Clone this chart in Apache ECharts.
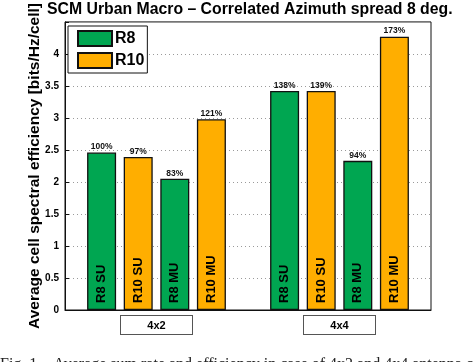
<!DOCTYPE html>
<html>
<head>
<meta charset="utf-8">
<script src="https://cdn.jsdelivr.net/npm/echarts@6/dist/echarts.min.js"></script>
<style>
html,body{margin:0;padding:0;background:#fff;}
#chart{width:474px;height:362px;}
</style>
</head>
<body>
<div id="chart"></div>
<script>
// ---- data ----
const groups = ['4x2', '4x4'];
const configs = ['R8 SU', 'R10 SU', 'R8 MU', 'R10 MU'];
const r8Values = [2.46, 2.05, 3.42, 2.33];     // R8 SU, R8 MU for 4x2 then 4x4
const r10Values = [2.39, 2.98, 3.42, 4.27];    // R10 SU, R10 MU for 4x2 then 4x4
const r8Pct = ['100%', '83%', '138%', '94%'];
const r10Pct = ['97%', '121%', '139%', '173%'];
const yTicks = [0, 0.5, 1, 1.5, 2, 2.5, 3, 3.5, 4];
const titleText = 'SCM Urban Macro \u2013 Correlated Azimuth spread 8 deg.';
const yName = 'Average cell spectral efficiency [bits/Hz/cell]';
const captionText = 'Fig. 1.   Average sum rate and efficiency in case of 4x2 and 4x4 antenna configurations';

// ---- build category slots: empty slot at each edge and between groups ----
const categories = [''];
const r8Data = ['-'];
const r10Data = ['-'];
const r8Lab = [''];
const r10Lab = [''];
groups.forEach(function (g, gi) {
  configs.forEach(function (c, ci) {
    categories.push(c);
    const isR8 = c.indexOf('R8') === 0;
    const k = gi * 2 + (ci >= 2 ? 1 : 0);
    if (isR8) { r8Data.push(r8Values[k]); r10Data.push('-'); r8Lab.push(r8Pct[k]); r10Lab.push(''); }
    else { r10Data.push(r10Values[k]); r8Data.push('-'); r10Lab.push(r10Pct[k]); r8Lab.push(''); }
  });
  categories.push('');
  r8Data.push('-'); r10Data.push('-'); r8Lab.push(''); r10Lab.push('');
});

const GREEN = '#00a651';
const ORANGE = '#ffae00';
const FONT = '"Liberation Sans", Arial, Helvetica, sans-serif';

function mainSeries(name, data, color) {
  return {
    name: name, type: 'bar', data: data, xAxisIndex: 0,
    barWidth: 29, barGap: '-100%',
    itemStyle: { color: color, borderColor: '#111', borderWidth: 1.3 },
    label: {
      show: true, position: 'insideBottom', rotate: 90, distance: 7,
      align: 'left', verticalAlign: 'middle',
      formatter: function (p) { return p.name; },
      color: '#000', fontWeight: 'bold', fontSize: 13, fontFamily: FONT
    },
    emphasis: { disabled: true }, silent: true, z: 2
  };
}
function pctSeries(data, labs) {
  return {
    name: 'pct', type: 'bar', data: data, xAxisIndex: 0,
    barWidth: 29, barGap: '-100%',
    itemStyle: { color: 'rgba(0,0,0,0)', borderWidth: 0 },
    label: {
      show: true, position: 'top', distance: 1,
      formatter: function (p) { return labs[p.dataIndex]; },
      color: '#111', fontWeight: 'bold', fontSize: 8.5, fontFamily: FONT
    },
    emphasis: { disabled: true }, silent: true, z: 3
  };
}

const chart = echarts.init(document.getElementById('chart'), null, { renderer: 'canvas' });
chart.setOption({
  animation: false,
  backgroundColor: '#fff',
  title: {
    text: titleText, left: 42, top: -3,
    textStyle: { fontFamily: FONT, fontWeight: 'bold', fontSize: 15.8, color: '#000' }
  },
  legend: {
    data: ['R8', 'R10'], orient: 'vertical', left: 68, top: 26,
    icon: 'rect', itemWidth: 34, itemHeight: 15, itemGap: 5,
    padding: [4, 3, 4, 9], borderColor: '#111', borderWidth: 1, backgroundColor: '#fff',
    textStyle: { fontFamily: FONT, fontWeight: 'bold', fontSize: 16, color: '#000', lineHeight: 15, padding: [0, 0, 0, -2] }
  },
  grid: { left: 65, right: 43, top: 21, bottom: 52, show: true, borderColor: '#111', borderWidth: 1, containLabel: false },
  xAxis: [
    {
      type: 'category', data: categories, boundaryGap: false,
      axisLine: { show: true, lineStyle: { color: '#111', width: 1 } },
      axisTick: { show: false }, axisLabel: { show: false }, splitLine: { show: false }
    },
    {
      type: 'category', data: groups, boundaryGap: true, position: 'bottom',
      axisLine: { show: false }, axisTick: { show: false }, splitLine: { show: false },
      axisLabel: {
        show: true, margin: 6, fontFamily: FONT, fontWeight: 'bold', fontSize: 11, color: '#000',
        backgroundColor: '#fff', borderColor: '#555', borderWidth: 1,
        width: 71, align: 'center', padding: [3, 0, 2, 0], lineHeight: 13
      }
    }
  ],
  yAxis: {
    type: 'value', min: 0, max: 4.5, interval: 0.5,
    name: yName, nameLocation: 'middle', nameRotate: 90, nameGap: 22, nameMoveOverlap: false,
    nameTextStyle: { fontFamily: FONT, fontWeight: 'bold', fontSize: 15.5, color: '#000', padding: [0, 0, 0, 0] },
    axisLine: { show: true, lineStyle: { color: '#111', width: 1 } },
    axisTick: { show: true, inside: true, length: 4, lineStyle: { color: '#111' } },
    axisLabel: {
      margin: 6, fontFamily: FONT, fontWeight: 'bold', fontSize: 10, color: '#000',
      formatter: function (v) { return yTicks.indexOf(v) >= 0 ? String(v) : ''; }
    },
    splitLine: { show: true, lineStyle: { color: '#9a9a9a', type: [1, 3], width: 1 } }
  },
  series: [
    mainSeries('R8', r8Data, GREEN),
    mainSeries('R10', r10Data, ORANGE),
    pctSeries(r8Data, r8Lab),
    pctSeries(r10Data, r10Lab)
  ],
  graphic: [{
    type: 'text', left: 0, top: 357,
    style: { text: captionText, font: '16px "Liberation Serif", "Times New Roman", serif', fill: '#222' }
  }]
});
</script>
</body>
</html>
